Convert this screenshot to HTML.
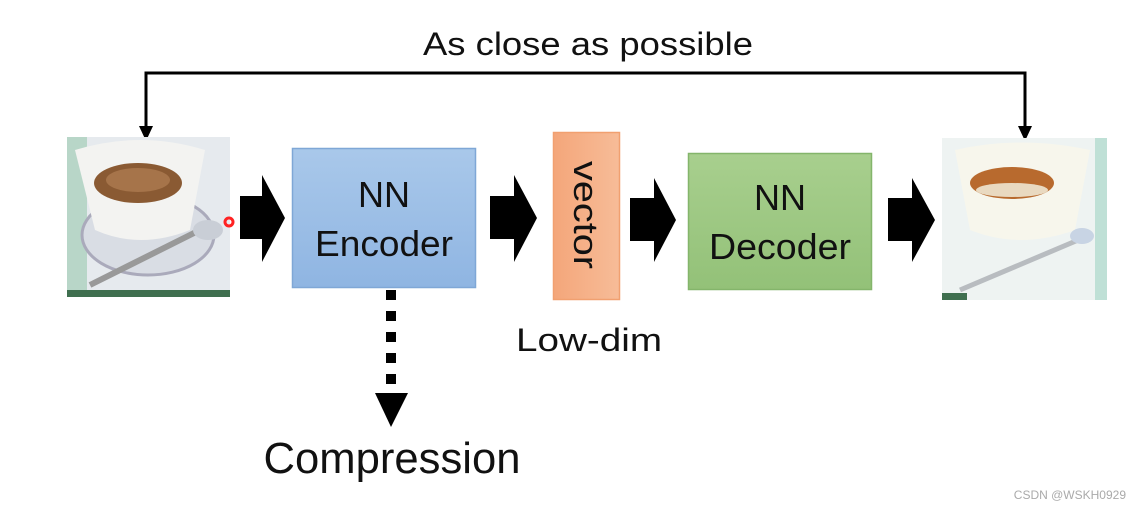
<!DOCTYPE html>
<html><head><meta charset="utf-8"><style>
html,body{margin:0;padding:0;background:#fff;}
svg{display:block;}
text{font-family:"Liberation Sans",sans-serif;fill:#111;}
</style></head><body>
<svg width="1141" height="510" viewBox="0 0 1141 510" xmlns="http://www.w3.org/2000/svg">
<defs>
<linearGradient id="bl" x1="0" y1="0" x2="0" y2="1"><stop offset="0" stop-color="#a9c8ea"/><stop offset="1" stop-color="#8fb5e2"/></linearGradient>
<linearGradient id="gr" x1="0" y1="0" x2="0" y2="1"><stop offset="0" stop-color="#a8cf8e"/><stop offset="1" stop-color="#93c178"/></linearGradient>
<linearGradient id="or" x1="0" y1="0" x2="1" y2="0"><stop offset="0" stop-color="#f4a67a"/><stop offset="1" stop-color="#f7bc98"/></linearGradient>
</defs>
<text x="588" y="55" font-size="32" text-anchor="middle" textLength="330" lengthAdjust="spacingAndGlyphs">As close as possible</text>
<polyline points="146,128 146,73 1025,73 1025,128" fill="none" stroke="#000" stroke-width="3"/>
<polygon points="139,126 153,126 146,141" fill="#000"/>
<polygon points="1018,126 1032,126 1025,141" fill="#000"/>
<rect x="67" y="137" width="163" height="160" fill="#e6eaee"/>
<rect x="67" y="137" width="20" height="160" fill="#b8d6c8"/>
<ellipse cx="148" cy="235" rx="66" ry="40" fill="#d9dde4" stroke="#aab" stroke-width="3"/>
<path d="M75 150 Q140 130 205 150 L190 230 Q140 250 95 230 Z" fill="#f3f3f1"/>
<ellipse cx="138" cy="183" rx="44" ry="20" fill="#8a5a33"/>
<ellipse cx="138" cy="180" rx="32" ry="12" fill="#a6744a"/>
<path d="M90 285 L210 225" stroke="#999" stroke-width="6"/>
<ellipse cx="208" cy="230" rx="15" ry="10" fill="#c9ced6"/>
<rect x="67" y="290" width="163" height="7" fill="#3f6f4f"/>
<circle cx="229" cy="222" r="4" fill="none" stroke="#f22" stroke-width="3"/>
<polygon points="240,196 262,196 262,175 285,218 262,262 262,239 240,239" fill="#000"/>
<polygon points="490,196 514,196 514,175 537,218 514,262 514,239 490,239" fill="#000"/>
<polygon points="630,198 654,198 654,178 676,220 654,262 654,241 630,241" fill="#000"/>
<polygon points="888,198 912,198 912,178 935,220 912,262 912,241 888,241" fill="#000"/>
<rect x="292.5" y="148.5" width="183" height="139" fill="url(#bl)" stroke="#7fa7d6" stroke-width="1.5"/>
<text x="384" y="207" font-size="36" text-anchor="middle" textLength="52" lengthAdjust="spacingAndGlyphs">NN</text>
<text x="384" y="256" font-size="36" text-anchor="middle" textLength="138" lengthAdjust="spacingAndGlyphs">Encoder</text>
<rect x="553.5" y="132.5" width="66" height="167" fill="url(#or)" stroke="#f1a070" stroke-width="1.5"/>
<text transform="translate(574,215) rotate(90)" font-size="34" text-anchor="middle" textLength="108" lengthAdjust="spacingAndGlyphs">vector</text>
<rect x="688.5" y="153.5" width="183" height="136" fill="url(#gr)" stroke="#84b56b" stroke-width="1.5"/>
<text x="780" y="210" font-size="36" text-anchor="middle" textLength="52" lengthAdjust="spacingAndGlyphs">NN</text>
<text x="780" y="259" font-size="36" text-anchor="middle" textLength="142" lengthAdjust="spacingAndGlyphs">Decoder</text>
<rect x="942" y="138" width="165" height="162" fill="#eef3f2"/>
<rect x="1095" y="138" width="12" height="162" fill="#bfe0d6"/>
<path d="M955 150 Q1020 135 1090 150 L1075 230 Q1020 250 970 230 Z" fill="#f7f6ec"/>
<ellipse cx="1012" cy="183" rx="42" ry="16" fill="#b86a2e"/>
<ellipse cx="1012" cy="190" rx="36" ry="7" fill="#e9d9c0"/>
<path d="M960 290 L1090 235" stroke="#b8bcc0" stroke-width="5"/>
<ellipse cx="1082" cy="236" rx="12" ry="8" fill="#c8d4e4"/>
<rect x="942" y="293" width="25" height="7" fill="#3f6f4f"/>
<g fill="#000">
<rect x="386" y="290" width="10" height="10"/>
<rect x="386" y="311" width="10" height="10"/>
<rect x="386" y="332" width="10" height="10"/>
<rect x="386" y="353" width="10" height="10"/>
<rect x="386" y="374" width="10" height="10"/>
<polygon points="375,393 408,393 391,427"/>
</g>
<text x="589" y="351" font-size="32" text-anchor="middle" textLength="146" lengthAdjust="spacingAndGlyphs">Low-dim</text>
<text x="392" y="473" font-size="44" text-anchor="middle" textLength="257" lengthAdjust="spacingAndGlyphs">Compression</text>
<text x="1126" y="499" font-size="12" text-anchor="end" style="fill:#aaa">CSDN @WSKH0929</text>
</svg>
</body></html>
